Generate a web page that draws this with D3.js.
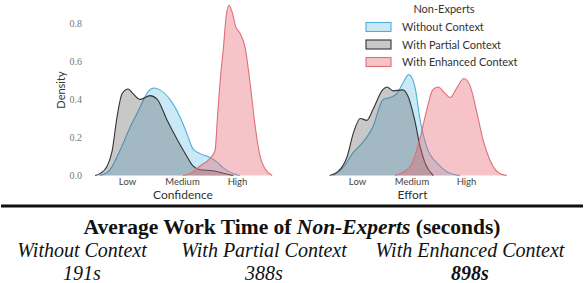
<!DOCTYPE html>
<html>
<head>
<meta charset="utf-8">
<script src="https://cdn.jsdelivr.net/npm/d3@7"></script>
<style>
  body { margin: 0; background: #fff; }
  svg { display: block; }
  .tick-y text { font-family: "Liberation Serif", serif; font-size: 10px; fill: #777; }
  .tick-x text { font-family: Lato, sans-serif; font-size: 9.5px; fill: #444; }
  .axis-title { font-family: Lato, sans-serif; font-size: 12px; fill: #333; }
  .legend text { font-family: Lato, sans-serif; font-size: 11px; fill: #333; }
  .caption { font-family: "Liberation Serif", serif; fill: #111; }
</style>
</head>
<body>
<svg id="chart" width="585" height="283"></svg>
<script>
// series names, same order as legend and bottom row
var seriesNames = ["Without Context", "With Partial Context", "With Enhanced Context"];
var seriesStroke = ["#4fafd9", "#333333", "#dd7077"];
var seriesFill = ["#87ceeb", "#4a4a4a", "#e8646e"];
var seriesOpacity = [0.45, 0.3, 0.38];

var levelValues = [1, 2, 3];
var levelLabels = ["Low", "Medium", "High"];
var yTicks = [0, 0.2, 0.4, 0.6, 0.8];

// density curves: [level, density]
var confWithout = [[0.51,0],[0.69,0.03],[0.87,0.13],[1.05,0.25],[1.24,0.36],[1.38,0.44],[1.49,0.46],
  [1.6,0.45],[1.78,0.40],[1.96,0.31],[2.09,0.22],[2.2,0.14],[2.33,0.115],[2.51,0.095],[2.64,0.07],
  [2.75,0.04],[2.93,0.01],[3.05,0]];
var confPartial = [[0.42,0],[0.51,0.01],[0.64,0.05],[0.73,0.13],[0.82,0.31],[0.91,0.43],[1.02,0.455],
  [1.11,0.43],[1.24,0.40],[1.42,0.42],[1.55,0.40],[1.73,0.29],[1.91,0.19],[2.09,0.10],[2.2,0.05],
  [2.33,0.03],[2.56,0.025],[2.75,0.012],[2.93,0]];
var confEnhanced = [[2.02,0],[2.15,0.01],[2.33,0.05],[2.51,0.09],[2.6,0.13],[2.65,0.33],[2.71,0.55],
  [2.75,0.66],[2.8,0.83],[2.855,0.895],[2.91,0.86],[2.98,0.78],[3.05,0.75],[3.15,0.67],[3.24,0.48],
  [3.33,0.26],[3.42,0.10],[3.51,0.035],[3.64,0]];

var effortWithout = [[0.56,0],[0.74,0.04],[0.93,0.12],[1.11,0.175],[1.29,0.255],[1.48,0.40],[1.61,0.41],
  [1.73,0.43],[1.84,0.485],[1.95,0.53],[2.06,0.47],[2.16,0.29],[2.28,0.15],[2.47,0.065],[2.65,0.02],
  [2.89,0]];
var effortPartial = [[0.5,0],[0.65,0.02],[0.82,0.10],[0.93,0.22],[1.06,0.30],[1.18,0.29],[1.29,0.345],
  [1.47,0.45],[1.55,0.465],[1.66,0.445],[1.84,0.45],[1.93,0.42],[2.06,0.29],[2.16,0.15],[2.25,0.065],
  [2.4,0]];
var effortEnhanced = [[1.7,0],[1.97,0.045],[2.16,0.20],[2.28,0.345],[2.39,0.45],[2.49,0.465],[2.62,0.43],
  [2.71,0.41],[2.84,0.465],[2.96,0.51],[3.07,0.475],[3.2,0.33],[3.31,0.19],[3.44,0.08],[3.62,0.01],
  [3.75,0]];

var workTimes = ["191s", "388s", "898s"];

var panels = [
  {title: "Confidence", x0: 127, step: 55, series: [confWithout, confPartial, confEnhanced], yAxis: true},
  {title: "Effort", x0: 357, step: 54.5, series: [effortWithout, effortPartial, effortEnhanced], yAxis: false}
];

var baseY = 175.5;
var svg = d3.select("#chart");

var yScale = d3.scaleLinear()
    .domain([0, 0.9])
    .range([baseY, baseY - 0.9 * 190.25]);

panels.forEach(function(p) {
  var xScale = d3.scaleLinear()
      .domain([0, 4])
      .range([p.x0 - p.step, p.x0 + 3 * p.step]);

  var area = d3.area()
      .x(function(d) { return xScale(d[0]); })
      .y0(yScale(0))
      .y1(function(d) { return yScale(d[1]); })
      .curve(d3.curveMonotoneX);
  var line = d3.line()
      .x(function(d) { return xScale(d[0]); })
      .y(function(d) { return yScale(d[1]); })
      .curve(d3.curveMonotoneX);

  var g = svg.append("g");
  p.series.forEach(function(s, i) {
    g.append("path")
        .attr("d", area(s))
        .attr("fill", seriesFill[i])
        .attr("fill-opacity", seriesOpacity[i]);
    g.append("path")
        .attr("d", line(s))
        .attr("fill", "none")
        .attr("stroke", seriesStroke[i])
        .attr("stroke-width", 1.1);
  });

  // x axis: Low / Medium / High
  var xAxis = d3.axisBottom(xScale)
      .tickValues(levelValues)
      .tickFormat(function(d, i) { return levelLabels[i]; })
      .tickSize(0)
      .tickPadding(3);
  var gx = svg.append("g")
      .attr("class", "tick-x")
      .attr("transform", `translate(0, ${baseY})`)
      .call(xAxis);
  gx.select(".domain").remove();
  gx.selectAll("text").attr("font-family", null).attr("font-size", null);

  svg.append("text")
      .attr("class", "axis-title")
      .attr("x", xScale(2) + 1)
      .attr("y", 199)
      .style("text-anchor", "middle")
      .text(p.title);

  if (p.yAxis) {
    var yAxis = d3.axisLeft(yScale)
        .tickValues(yTicks)
        .tickFormat(d3.format(".1f"))
        .tickSize(0)
        .tickPadding(3);
    var gy = svg.append("g")
        .attr("class", "tick-y")
        .attr("transform", "translate(85, 0)")
        .call(yAxis);
    gy.select(".domain").remove();
    gy.selectAll("text").attr("font-family", null).attr("font-size", null);

    svg.append("text")
        .attr("class", "axis-title")
        .attr("transform", "translate(65, 90) rotate(-90)")
        .style("text-anchor", "middle")
        .style("font-size", "11px")
        .text("Density");
  }
});

// legend
var legend = svg.append("g").attr("class", "legend");
legend.append("text")
    .attr("x", 444)
    .attr("y", 13)
    .style("text-anchor", "middle")
    .text("Non-Experts");
var rows = legend.selectAll("g.row")
    .data(seriesNames)
    .enter().append("g")
        .attr("class", "row")
        .attr("transform", function(d, i) { return `translate(366, ${27 + i * 17.5})`; });
rows.append("rect")
    .attr("x", 0)
    .attr("y", -4.5)
    .attr("width", 25)
    .attr("height", 9)
    .attr("fill", function(d, i) { return seriesFill[i]; })
    .attr("fill-opacity", function(d, i) { return seriesOpacity[i]; })
    .attr("stroke", function(d, i) { return seriesStroke[i]; })
    .attr("stroke-width", 1.1);
rows.append("text")
    .attr("x", 36)
    .attr("y", 4)
    .text(function(d) { return d; });

// divider
svg.append("line")
    .attr("x1", 1)
    .attr("x2", 583)
    .attr("y1", 206)
    .attr("y2", 206)
    .attr("stroke", "#111")
    .attr("stroke-width", 3);

// caption block
var caption = svg.append("text")
    .attr("class", "caption")
    .attr("x", 292)
    .attr("y", 234)
    .style("text-anchor", "middle")
    .style("font-size", "21.5px")
    .style("font-weight", "bold");
caption.append("tspan").text("Average Work Time of ");
caption.append("tspan").style("font-style", "italic").text("Non-Experts");
caption.append("tspan").text(" (seconds)");

var colX = [82, 264, 470];
svg.selectAll("text.col-name")
    .data(seriesNames)
    .enter().append("text")
        .attr("class", "caption col-name")
        .attr("x", function(d, i) { return colX[i]; })
        .attr("y", 257)
        .style("text-anchor", "middle")
        .style("font-size", "20px")
        .style("font-style", "italic")
        .text(function(d) { return d; });
svg.selectAll("text.col-time")
    .data(workTimes)
    .enter().append("text")
        .attr("class", "caption col-time")
        .attr("x", function(d, i) { return colX[i]; })
        .attr("y", 280)
        .style("text-anchor", "middle")
        .style("font-size", "20px")
        .style("font-style", "italic")
        .style("font-weight", function(d, i) { return i == 2 ? "bold" : "normal"; })
        .text(function(d) { return d; });
</script>
</body>
</html>
